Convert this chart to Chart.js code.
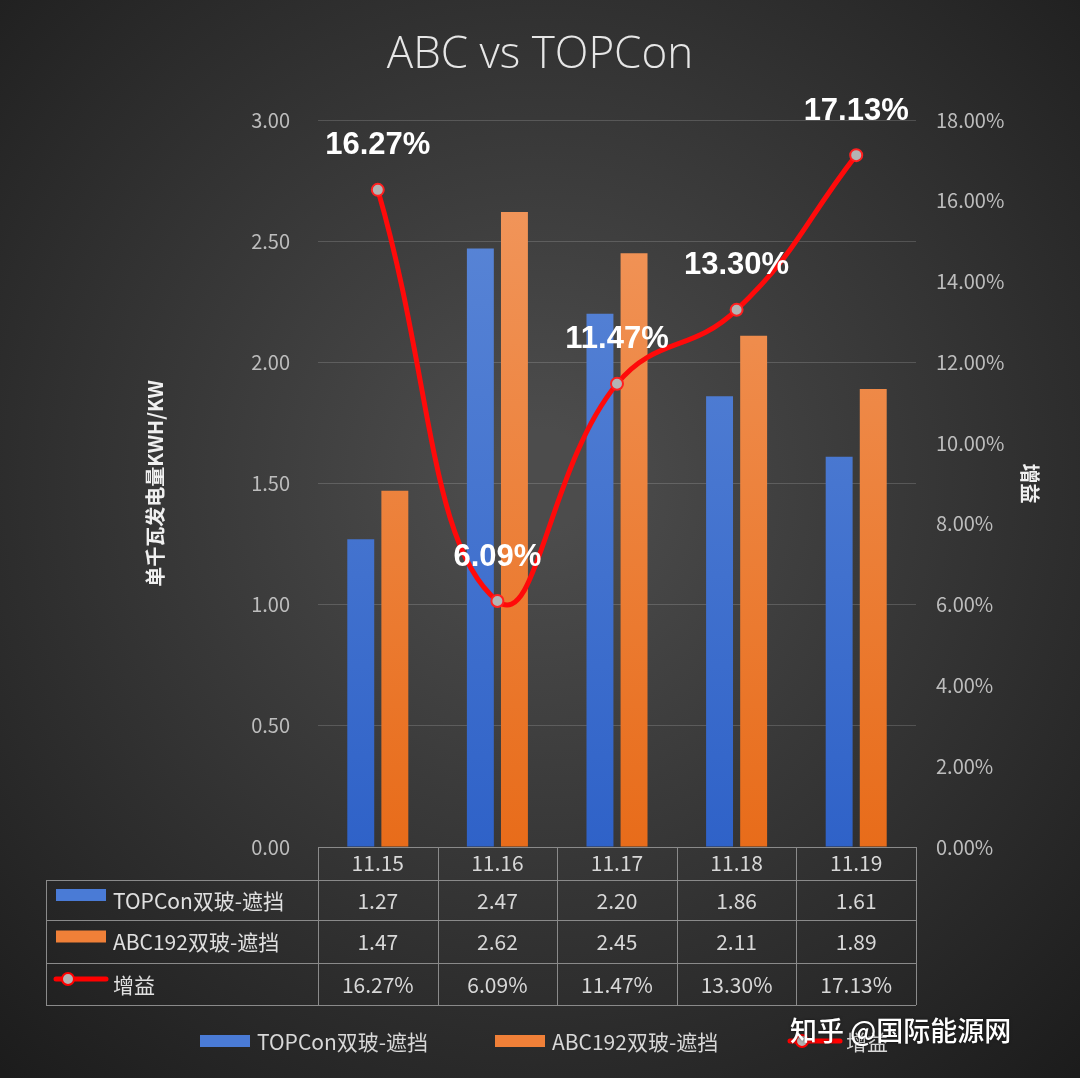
<!DOCTYPE html>
<html><head><meta charset="utf-8">
<script src="https://cdn.jsdelivr.net/npm/chart.js@4"></script>
<style>html,body{margin:0;padding:0;background:#2a2a2a;}canvas{display:block;}</style>
</head><body>
<canvas id="c" width="1080" height="1078"></canvas>
<script>
const categories = ['11.15','11.16','11.17','11.18','11.19'];
const topcon = [1.27,2.47,2.20,1.86,1.61];
const abc = [1.47,2.62,2.45,2.11,1.89];
const gain = [16.27,6.09,11.47,13.30,17.13];
const seriesNames = ['TOPCon双玻-遮挡','ABC192双玻-遮挡','增益'];
const FONT = '"Noto Sans CJK SC","Noto Sans",sans-serif';

function grad(ctx, c1, c2){
  const ca = ctx.chart.chartArea; if(!ca) return c1;
  const g = ctx.chart.ctx.createLinearGradient(0,ca.top,0,ca.bottom);
  g.addColorStop(0,c1); g.addColorStop(1,c2); return g;
}
const bgPlugin = {id:'bg', beforeDraw(ch){
  const c=ch.ctx; const g=c.createRadialGradient(540,480,50,540,480,800);
  g.addColorStop(0,'#4c4c4c'); g.addColorStop(1,'#1c1c1c');
  c.save(); c.fillStyle=g; c.fillRect(0,0,ch.width,ch.height); c.restore();
}};
const drawPlugin = {id:'draw', afterDraw(ch){
  const c=ch.ctx, x=ch.scales.x, ca=ch.chartArea, yr=ch.scales.y1;
  c.save();
  c.fillStyle='#e6e6e6'; c.font='300 44px "Open Sans",'+FONT; c.textAlign='center'; c.textBaseline='middle';
  c.fillText('ABC vs TOPCon',540,55);
  c.font='bold 20px '+FONT; c.fillStyle='#f0f0f0';
  c.save(); c.translate(155,(ca.top+ca.bottom)/2); c.rotate(-Math.PI/2); c.fillText('单千瓦发电量KWH/KW',0,0); c.restore();
  c.save(); c.translate(1030,(ca.top+ca.bottom)/2); c.rotate(Math.PI/2); c.fillText('增益',0,0); c.restore();
  c.font='bold 31px "Liberation Sans",Arial,sans-serif'; c.fillStyle='#ffffff';
  gain.forEach((v,i)=>{ c.fillText(v.toFixed(2)+'%', x.getPixelForValue(i), yr.getPixelForValue(v)-44); });
  const L=46, rows=[ca.bottom,880,920,963,1005];
  const step=(ca.right-ca.left)/categories.length;
  c.strokeStyle='#8a8a8a'; c.lineWidth=1;
  c.beginPath();
  c.moveTo(ca.left,ca.bottom+0.5); c.lineTo(ca.right,ca.bottom+0.5);
  for(let r=1;r<rows.length;r++){c.moveTo(L,rows[r]+0.5);c.lineTo(ca.right,rows[r]+0.5);}
  for(let k=0;k<=categories.length;k++){const xx=Math.round(ca.left+k*step)+0.5;c.moveTo(xx,ca.bottom);c.lineTo(xx,rows[4]);}
  c.moveTo(L+0.5,rows[1]);c.lineTo(L+0.5,rows[4]);
  c.stroke();
  c.font='21px '+FONT; c.fillStyle='#d8d8d8';
  const fmt=[v=>v.toFixed(2),v=>v.toFixed(2),v=>v.toFixed(2)+'%'];
  const data=[topcon,abc,gain];
  categories.forEach((t,i)=>c.fillText(t,x.getPixelForValue(i),(rows[0]+rows[1])/2));
  data.forEach((arr,r)=>arr.forEach((v,i)=>c.fillText(fmt[r](v),x.getPixelForValue(i),(rows[r+1]+rows[r+2])/2+1)));
  function swatch(r,sx,sy){
    if(r===0){c.fillStyle='#4a7bd6';c.fillRect(sx,sy-6,50,12);}
    else if(r===1){c.fillStyle='#f08038';c.fillRect(sx,sy-6,50,12);}
    else {c.strokeStyle='#ff0000';c.lineWidth=5;c.lineCap='round';c.beginPath();c.moveTo(sx,sy);c.lineTo(sx+50,sy);c.stroke();
      c.fillStyle='#b4b4b4';c.strokeStyle='#ff0000';c.lineWidth=2;c.beginPath();c.arc(sx+12,sy,6,0,Math.PI*2);c.fill();c.stroke();}
  }
  c.textAlign='left';
  for(let r=0;r<3;r++){const cy=(rows[r+1]+rows[r+2])/2; swatch(r,56,cy-5); c.fillStyle='#e0e0e0'; c.font='21px '+FONT; c.fillText(seriesNames[r],113,cy+1);}
  const lg=[[200,257],[495,552],[790,846]];
  lg.forEach((p,r)=>{swatch(r,p[0],1041); c.fillStyle='#d8d8d8'; c.font='21px '+FONT; c.fillText(seriesNames[r],p[1],1042);});
  c.font='500 27px '+FONT; c.fillStyle='#ffffff'; c.shadowColor='rgba(0,0,0,0.5)'; c.shadowBlur=3;
  c.fillText('知乎 @国际能源网',790,1031);
  c.restore();
}};
new Chart(document.getElementById('c'),{
  data:{labels:categories,datasets:[
    {type:'line',label:seriesNames[2],data:gain,yAxisID:'y1',borderColor:'#ff0a0a',borderWidth:5,tension:0.45,
     pointRadius:6,pointBackgroundColor:'#b4b4b4',pointBorderColor:'#ff2020',pointBorderWidth:2,order:0},
    {type:'bar',label:seriesNames[0],data:topcon,yAxisID:'y',categoryPercentage:0.57,barPercentage:0.79,
     backgroundColor:ctx=>grad(ctx,'#5f8ad8','#2f62c8'),order:1},
    {type:'bar',label:seriesNames[1],data:abc,yAxisID:'y',categoryPercentage:0.57,barPercentage:0.79,
     backgroundColor:ctx=>grad(ctx,'#f29a62','#e86c1a'),order:1}
  ]},
  options:{responsive:false,animation:false,
    layout:{padding:{top:120,bottom:231,left:0,right:0}},
    plugins:{legend:{display:false},tooltip:{enabled:false}},
    scales:{
      x:{display:false},
      y:{position:'left',min:0,max:3,ticks:{stepSize:0.5,padding:28,color:'#bdbdbd',font:{size:20,family:FONT},callback:v=>v.toFixed(2)},
         grid:{color:'rgba(255,255,255,0.16)',drawTicks:false},border:{display:false},afterFit:s=>{s.width=318;}},
      y1:{position:'right',min:0,max:18,ticks:{stepSize:2,padding:20,color:'#bdbdbd',font:{size:20,family:FONT},callback:v=>v.toFixed(2)+'%'},
         grid:{display:false,drawTicks:false},border:{display:false},afterFit:s=>{s.width=164;}}
    }},
  plugins:[bgPlugin,drawPlugin]
});
</script></body></html>
